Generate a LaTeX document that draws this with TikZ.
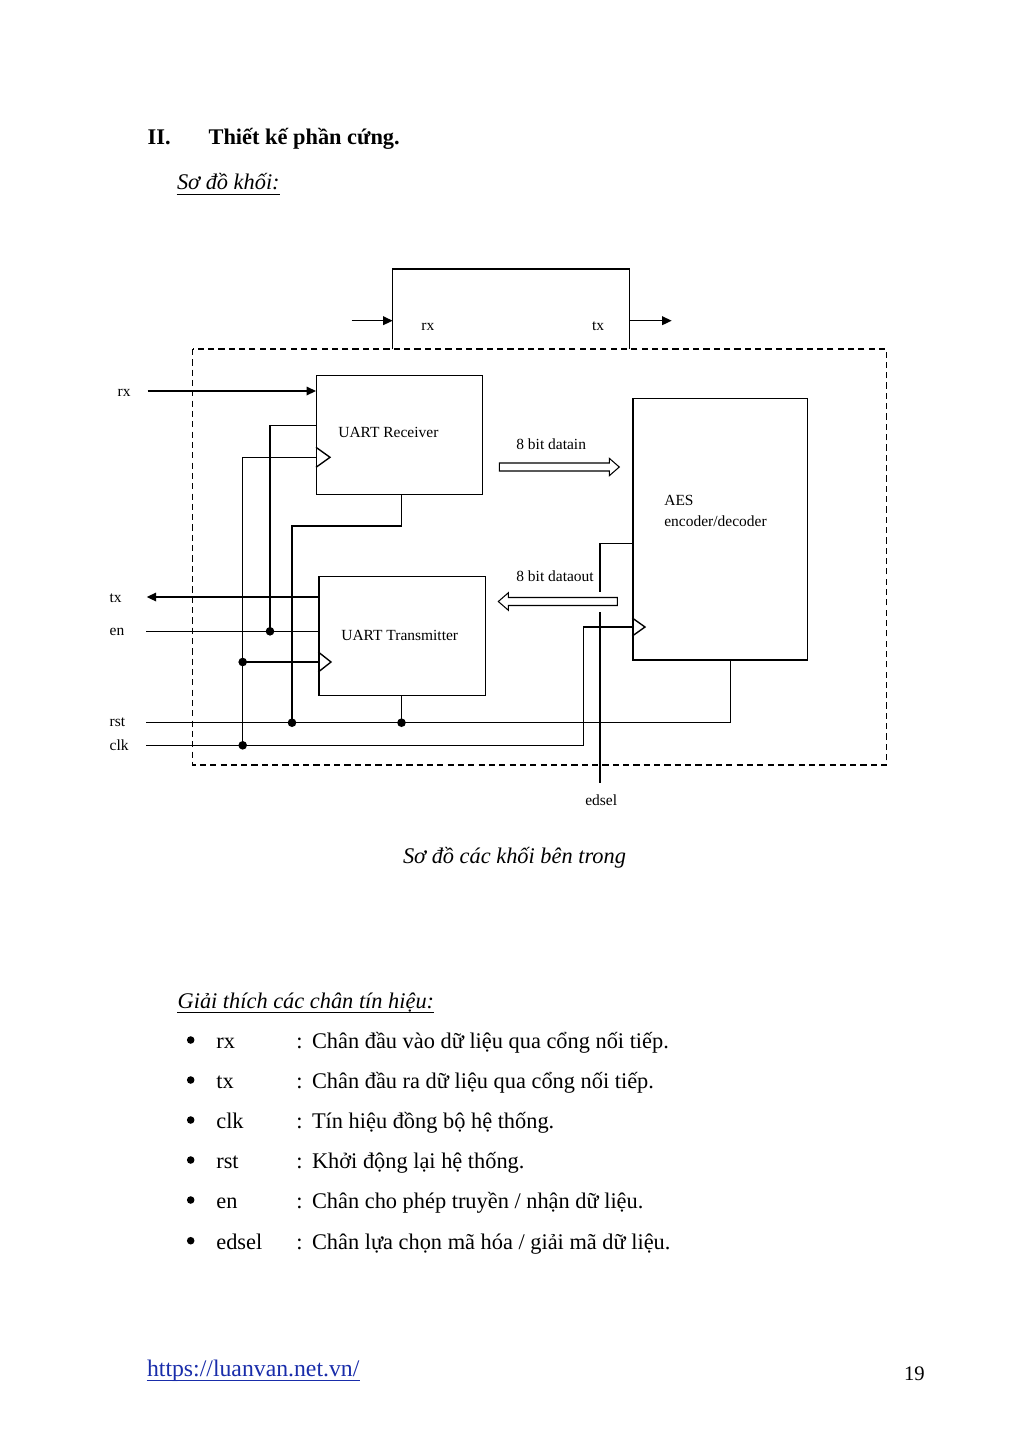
\documentclass[tikz,border=0pt]{standalone}
\usepackage{fontspec}
\setmainfont{Liberation Serif}
\usetikzlibrary{arrows.meta,fit}
\definecolor{linkblue}{RGB}{25,45,170}
\begin{document}
\begin{tikzpicture}[x=0.5813pt,y=-0.5813pt,
  wire/.style={line width=0.8pt},
  blk/.style={draw,line width=0.8pt,inner sep=0pt},
  lbl/.style={inner sep=0pt,font=\fontsize{9}{11}\selectfont,anchor=base west},
  body/.style={inner sep=0pt,font=\fontsize{13}{15}\selectfont,anchor=base west},
  head/.style={inner sep=0pt,font=\fontsize{13}{15}\selectfont,anchor=base west},
  arr/.style={wire,-{Triangle[length=5.5pt,width=5pt]}},
  jdot/.style={circle,fill,inner sep=0pt,minimum size=5pt},
  bul/.style={circle,fill,inner sep=0pt,minimum size=4.4pt},
  fatarrow/.style={draw,line width=0.6pt,fill=white},
]
\useasboundingbox (0,0) rectangle (1024,1448);

% ---------- headings ----------
\node[head,font=\fontsize{13}{15}\selectfont\bfseries] (h2) at (147.3,144.3) {II.};
\node[head,font=\fontsize{13}{15}\selectfont\bfseries] (h2t) at (208.3,144.3) {Thiết kế phần cứng.};
\node[head,font=\fontsize{13}{15}\selectfont\itshape] (sdk) at (176.7,189.3) {Sơ đồ khối:};
\draw[line width=0.6pt] ([yshift=-3.2pt]sdk.base west) -- ([yshift=-3.2pt]sdk.base east);

% ---------- blocks ----------
\draw[wire,dashed,dash pattern=on 3.6pt off 2.4pt] (192.7,349) rectangle (886.7,765);
\node[fit={(393,269.3) (629,349)},inner sep=0pt] (top) {};
\draw[wire] (top.south west) -- (top.north west) -- (top.north east) -- (top.south east);
\node[blk,fit={(316.7,375.3) (482.3,494.3)}] (rcv) {};
\node[blk,fit={(319,576.7) (485.3,695.7)}] (trm) {};
\node[blk,fit={(633,398.3) (807.7,660)}] (aes) {};

% clock triangles
\draw[wire] (rcv.west |- 0,447.3) -- (330,457.3) -- (rcv.west |- 0,467.3);
\draw[wire] (trm.west |- 0,652) -- (331,662) -- (trm.west |- 0,672);
\draw[wire] (aes.west |- 0,618) -- (645,627) -- (aes.west |- 0,636);

% block labels
\node[lbl] (lrcv) at (338,437) {UART Receiver};
\node[lbl] (ltrm) at (341,640) {UART Transmitter};
\node[lbl] (laes1) at (664,505) {AES};
\node[lbl] (laes2) at (664,526) {encoder/decoder};
\node[lbl] (ltrx) at (421,330) {rx};
\node[lbl] (lttx) at (591.7,330) {tx};

% ---------- top box pins ----------
\coordinate (trxin) at (351.7,320.7);
\coordinate (ttxout) at (671.7,320.7);
\draw[arr] (trxin) -- (trxin -| top.west);
\draw[arr] (ttxout -| top.east) -- (ttxout);

% ---------- outer pin labels ----------
\node[lbl] (lrx) at (117.3,396) {rx};
\node[lbl] (ltx) at (109.3,602.7) {tx};
\node[lbl] (len) at (109.3,635) {en};
\node[lbl] (lrst) at (109.3,726.7) {rst};
\node[lbl] (lclk) at (109.3,750) {clk};
\node[lbl] (ledsel) at (585,805) {edsel};

\coordinate (rxin) at (147.7,391);
\coordinate (txout) at (146.7,597);
\coordinate (enin) at (146,631.3);
\coordinate (rstin) at (146,722.7);
\coordinate (clkin) at (146,745.3);
\coordinate (edin) at (600,782.7);

% rx
\draw[arr] (rxin) -- (rxin -| rcv.west);
% tx
\draw[arr] (txout -| trm.west) -- (txout);
% en
\node[jdot] (den) at (270,631.3) {};
\draw[wire] (enin) -- (enin -| trm.west);
\draw[wire] (den.center) -- (270,425.7) -- (rcv.west |- 0,425.7);
% clk
\node[jdot] (dclk1) at (242.7,745.3) {};
\node[jdot] (dclk2) at (242.7,662) {};
\draw[wire] (clkin) -- (583.3,745.3) -- (583.3,627) -- (aes.west |- 0,627);
\draw[wire] (dclk1.center) -- (242.7,457.3) -- (rcv.west |- 0,457.3);
\draw[wire] (dclk2.center) -- (trm.west |- 0,662);
% rst
\node[jdot] (drst1) at (292,722.7) {};
\node[jdot] (drst2) at (401.5,722.7) {};
\draw[wire] (rstin) -- (730.7,722.7) -- (aes.south -| 730.7,0);
\draw[wire] (rcv.south -| 401.7,0) -- (401.7,526) -- (292,526) -- (drst1.center);
\draw[wire] (trm.south -| 401.5,0) -- (drst2.center);
% edsel
\draw[wire] (edin) -- (600,611.7);
\draw[wire] (600,591.7) -- (600,543.3) -- (aes.west |- 0,543.3);

% ---------- data arrows ----------
\node[lbl] (ldin) at (516,449) {8 bit datain};
\node[lbl] (ldout) at (516,581) {8 bit dataout};
\draw[fatarrow] (499.3,463) -- (609.3,463) -- (609.3,458.3) -- (619.3,467) -- (609.3,475.7) -- (609.3,471) -- (499.3,471) -- cycle;
\draw[fatarrow] (617.3,597.5) -- (508.3,597.5) -- (508.3,592.8) -- (498.3,601.5) -- (508.3,610.2) -- (508.3,605.5) -- (617.3,605.5) -- cycle;

% ---------- caption ----------
\node[head,font=\fontsize{13}{15}\selectfont\itshape] (cap) at (402.7,863.3) {Sơ đồ các khối bên trong};

% ---------- signal list ----------
\node[head,font=\fontsize{13}{15}\selectfont\itshape] (gt) at (177.3,1008.3) {Giải thích các chân tín hiệu:};
\draw[line width=0.6pt] ([yshift=-2.2pt]gt.base west) -- ([yshift=-2.2pt]gt.base east);

\foreach \y/\n/\t [count=\i] in {
  1048.3/rx/{Chân đầu vào dữ liệu qua cổng nối tiếp.},
  1088.3/tx/{Chân đầu ra dữ liệu qua cổng nối tiếp.},
  1128.3/clk/{Tín hiệu đồng bộ hệ thống.},
  1168.3/rst/{Khởi động lại hệ thống.},
  1208.3/en/{Chân cho phép truyền / nhận dữ liệu.},
  1249/edsel/{Chân lựa chọn mã hóa / giải mã dữ liệu.}}{
  \node[bul] (b\i) at (190.7,\y-8.3) {};
  \node[body] (n\i) at (216,\y) {\n};
  \node[body] (c\i) at (296,\y) {:};
  \node[body] (t\i) at (311.7,\y) {\t};
}

% ---------- footer ----------
\node[body,font=\fontsize{13.8}{16}\selectfont,text=linkblue] (url) at (146.7,1376.7) {https://luanvan.net.vn/};
\draw[linkblue,line width=0.6pt] ([yshift=-2.4pt]url.base west) -- ([yshift=-2.4pt]url.base east);
\node[body,font=\fontsize{12}{14}\selectfont,anchor=base east] (pg) at (925,1380.5) {19};
\end{tikzpicture}
\end{document}
